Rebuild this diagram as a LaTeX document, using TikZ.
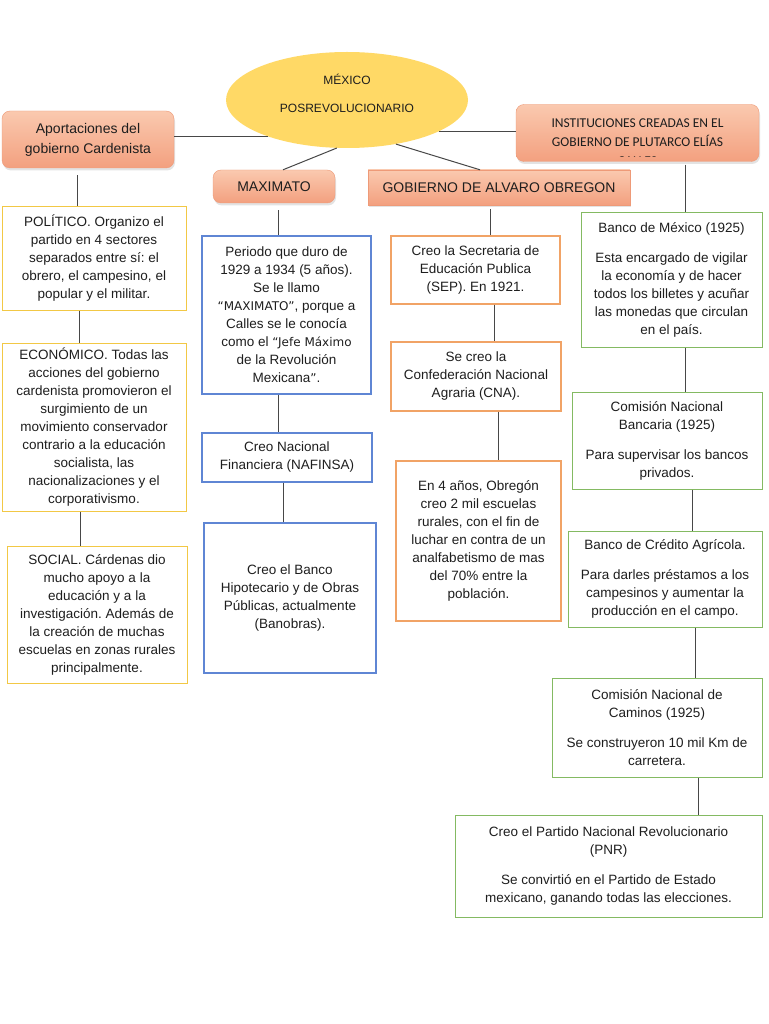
\documentclass[tikz,border=0pt]{standalone}
\usepackage{fontspec}
\setmainfont{Liberation Sans}
\newfontfamily\capfont{Carlito}
\newfontfamily\otrafuente{DejaVu Sans}
\usetikzlibrary{shapes.geometric}
\usetikzlibrary{shadows}
\frenchspacing

\definecolor{elipse}{HTML}{FFD966}
\definecolor{salmonTop}{HTML}{FAC9AF}
\definecolor{salmonBot}{HTML}{F3A07F}
\definecolor{salmonLine}{HTML}{EE9A78}
\definecolor{bordeY}{HTML}{F2C845}
\definecolor{bordeB}{HTML}{5F86D4}
\definecolor{bordeO}{HTML}{F1A366}
\definecolor{bordeG}{HTML}{84BA62}
\definecolor{texto}{HTML}{1E1E1E}

\tikzset{
  salmon/.style={rounded corners=8pt,draw=salmonLine,top color=salmonTop,bottom color=salmonBot,
    align=center,inner sep=0pt,text=texto,font=\fontsize{14}{20}\selectfont,
    drop shadow={opacity=0.22,shadow xshift=1pt,shadow yshift=-2.5pt}},
  caja/.style={fill=white,align=center,inner sep=0pt,text=texto,line width=1pt,
    font=\fontsize{13.5}{18}\selectfont},
  amarilla/.style={caja,draw=bordeY},
  azul/.style={caja,draw=bordeB,line width=1.2pt},
  naranja/.style={caja,draw=bordeO,line width=1.2pt},
  verde/.style={caja,draw=bordeG},
  link/.style={draw=black!72,line width=1pt}
}

\begin{document}
\begin{tikzpicture}[x=1pt,y=-1pt]
            \fill[white] (0,0) rectangle (768,1024);
            \useasboundingbox (0,0) rectangle (768,1024);
            %%%%%%%%%%%%%%%%%%%%%%%%%%%%%%%%%%%%%%%%%% centro
            \node[ellipse,fill=elipse,minimum width=242,minimum height=96,inner sep=0pt] (ell) at (347,100) {};
            \node[align=center,text=texto,font=\fontsize{12}{18}\selectfont] (elltxt) at (347,93) {MÉXICO\\[10pt]POSREVOLUCIONARIO};
            %%%%%%%%%%%%%%%%%%%%%%%%%%%%%%%%%%%%%%%%%% encabezados
            \node[salmon,minimum width=172,minimum height=57] (apor) at (88,139.5) {Aportaciones del\\gobierno Cardenista};
            \node[salmon,minimum width=122,minimum height=33] (maxi) at (274,186.5) {MAXIMATO};
            \node[salmon,rounded corners=0pt,minimum width=262,minimum height=35] (gobi) at (499,187.5) {GOBIERNO DE ALVARO OBREGON};
            \node[salmon,minimum width=243,minimum height=57,font=\capfont\fontsize{13.5}{19}\selectfont] (inst) at (637.5,133) {INSTITUCIONES CREADAS EN EL\\GOBIERNO DE PLUTARCO ELÍAS};
            \begin{scope}
                \clip (inst.north west) rectangle ([yshift=5pt]inst.south east);
                \node[text=texto,font=\capfont\fontsize{13.5}{19}\selectfont,anchor=base,inner sep=0pt] (callestxt) at ([yshift=-4pt]inst.south) {CALLES};
            \end{scope}
            %%%%%%%%%%%%%%%%%%%%%%%%%%%%%%%%%%%%%%%%%% columna Cardenas
            \node[amarilla,minimum width=184,minimum height=103] (pol) at (94,258.5) {POLÍTICO. Organizo el\\partido en 4 sectores\\separados entre sí: el\\obrero, el campesino, el\\popular y el militar.};
            \node[amarilla,minimum width=184,minimum height=168] (eco) at (94,427) {ECONÓMICO. Todas las\\acciones del gobierno\\cardenista promovieron el\\surgimiento de un\\movimiento conservador\\contrario a la educación\\socialista, las\\nacionalizaciones y el\\corporativismo.};
            \node[amarilla,minimum width=180,minimum height=137] (soc) at (97,614.5) {SOCIAL. Cárdenas dio\\mucho apoyo a la\\educación y a la\\investigación. Además de\\la creación de muchas\\escuelas en zonas rurales\\principalmente.};
            %%%%%%%%%%%%%%%%%%%%%%%%%%%%%%%%%%%%%%%%%% columna Maximato
            \node[azul,minimum width=169,minimum height=158] (peri) at (286.5,315) {Periodo que duro de\\1929 a 1934 (5 años).\\Se le llamo\\{\otrafuente\fontsize{12}{18}\selectfont “MAXIMATO”}, porque a\\Calles se le conocía\\como el {\otrafuente\fontsize{12}{18}\selectfont “Jefe Máximo}\\de la Revolución\\Mexicana{\otrafuente\fontsize{12}{18}\selectfont ”.}};
            \node[azul,minimum width=170,minimum height=49] (nafi) at (287,457.5) {Creo Nacional\\Financiera (NAFINSA)};
            \node[azul,line width=1.5pt,minimum width=172,minimum height=150] (bano) at (290,598) {Creo el Banco\\Hipotecario y de Obras\\Públicas, actualmente\\(Banobras).};
            %%%%%%%%%%%%%%%%%%%%%%%%%%%%%%%%%%%%%%%%%% columna Obregon
            \node[naranja,minimum width=169,minimum height=68] (sep) at (475.5,270) {Creo la Secretaria de\\Educación Publica\\(SEP). En 1921.};
            \node[naranja,minimum width=170,minimum height=69] (cna) at (476,376.5) {Se creo la\\Confederación Nacional\\Agraria (CNA).};
            \node[naranja,minimum width=165,minimum height=160] (obre) at (478.5,541) {En 4 años, Obregón\\creo 2 mil escuelas\\rurales, con el fin de\\luchar en contra de un\\analfabetismo de mas\\del 70\% entre la\\población.};
            %%%%%%%%%%%%%%%%%%%%%%%%%%%%%%%%%%%%%%%%%% columna Calles
            \node[verde,minimum width=181,minimum height=134] (bmex) at (671.5,280) {Banco de México (1925)\\[12pt]Esta encargado de vigilar\\la economía y de hacer\\todos los billetes y acuñar\\las monedas que circulan\\en el país.};
            \node[verde,minimum width=190,minimum height=97] (cnb) at (667,440.5) {Comisión Nacional\\Bancaria (1925)\\[12pt]Para supervisar los bancos\\privados.};
            \node[verde,minimum width=194,minimum height=96] (bca) at (665,579) {Banco de Crédito Agrícola.\\[12pt]Para darles préstamos a los\\campesinos y aumentar la\\producción en el campo.};
            \node[verde,minimum width=210,minimum height=99] (cam) at (657,727.5) {Comisión Nacional de\\Caminos (1925)\\[12pt]Se construyeron 10 mil Km de\\carretera.};
            \node[verde,minimum width=307,minimum height=102] (pnr) at (608.5,866) {Creo el Partido Nacional Revolucionario\\(PNR)\\[12pt]Se convirtió en el Partido de Estado\\mexicano, ganando todas las elecciones.};
            %%%%%%%%%%%%%%%%%%%%%%%%%%%%%%%%%%%%%%%%%% conectores
            \draw[link] (ell.205) -- (apor.east |- ell.205);
            \draw[link] (ell.-19) -- (inst.west |- ell.-19);
            \draw[link] (ell.-102) -- ([xshift=9pt]maxi.north);
            \draw[link] (ell.-42) -- ([xshift=-19pt]gobi.north);
            \foreach \a/\b/\dx/\g in {apor/pol/-11/7,pol/eco/-15/0,eco/soc/-14/0,maxi/peri/4/7,peri/nafi/-8.5/0,nafi/bano/-4/0,gobi/sep/-9/4,sep/cna/18.5/0,cna/obre/22/0,inst/bmex/47.5/3,bmex/cnb/13.5/0,cnb/bca/25/0,bca/cam/30/0,cam/pnr/41/0}
            {
                \coordinate (t) at ([xshift=\dx]\a.south);
                \draw[link] ([yshift=-\g]t) -- (t |- \b.north);
            }
\end{tikzpicture}
\end{document}
